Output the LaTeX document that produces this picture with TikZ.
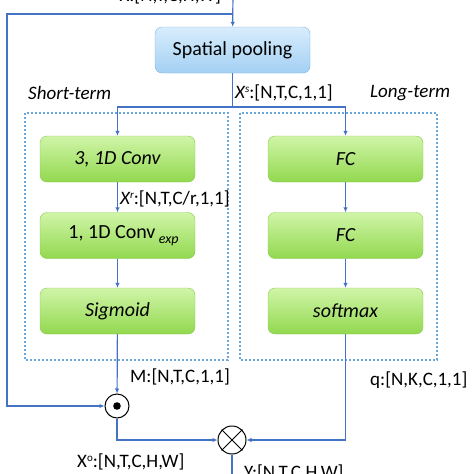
\documentclass[tikz,border=0pt]{standalone}
\usepackage{fontspec}
\setmainfont{Carlito}
\usetikzlibrary{arrows.meta}
\definecolor{lineblue}{HTML}{4472C4}
\definecolor{dotblue}{HTML}{6AA8DC}
\definecolor{greentop}{HTML}{D0F5A8}
\definecolor{greenbot}{HTML}{92D84F}
\definecolor{greenedge}{HTML}{8CC84E}
\definecolor{pooltop}{HTML}{D8EDFC}
\definecolor{poolbot}{HTML}{A3D0F4}
\definecolor{pooledge}{HTML}{7DB3E3}
\newcommand{\tinysup}[1]{\raisebox{0.7ex}{\fontsize{11}{12}\selectfont #1}}

\begin{document}
\begin{tikzpicture}[x=1pt,y=-1pt]
	\tikzstyle{every node}=[font=\fontsize{19}{21}\selectfont, inner sep=1pt]
	\tikzstyle{block}=[draw=greenedge, rounded corners=7pt, top color=greentop, bottom color=greenbot,
		minimum width=155pt, minimum height=46pt, font=\fontsize{20}{22}\selectfont]
	\tikzstyle{poolbox}=[block, draw=pooledge, top color=pooltop, bottom color=poolbot]
	\tikzstyle{conn}=[draw=lineblue, line width=1.2pt, -{Latex[length=5pt,width=4.5pt]}]
	\tikzstyle{region}=[draw=dotblue, line width=2.6pt, dash pattern=on 2.2pt off 1.8pt]
	\tikzstyle{op}=[circle, draw, line width=1pt, inner sep=0pt]
	\useasboundingbox (0,0) rectangle (474,474);
	% blocks
	\node[poolbox] (pool) at (232.5,50) {Spatial pooling};
	\node[block] (conv3) at (117.5,159) {\itshape 3, 1D Conv};
	\node[block] (conv1) at (117.5,235.5) {\hspace{12pt}1, 1D Conv\,\raisebox{-0.5ex}{\fontsize{14}{15}\selectfont\itshape exp}};
	\node[block] (sig) at (117.5,311) {\itshape Sigmoid};
	\node[block] (fc1) at (345.5,159) {\itshape FC};
	\node[block] (fc2) at (345.5,235.5) {\itshape FC};
	\node[block] (soft) at (345.5,311) {\itshape softmax};
	% dotted regions
	\draw[region] (25,113) rectangle (228,360);
	\draw[region] (240,113) rectangle (437,360);
	% operators
	\node[op, minimum size=24pt] (dot) at (117,406) {};
	\fill (dot) circle (3.8pt);
	\node[op, minimum size=28pt] (mul) at (232,440) {};
	\draw[line width=1pt] (mul.north west) -- (mul.south east) (mul.north east) -- (mul.south west);
	% connectors
	\coordinate (in) at (233,-10);
	\coordinate (fork) at (233,14);
	\coordinate (skip) at (7,14);
	\coordinate (split) at (232.5,107);
	\coordinate (out) at (232,485);
	\draw[conn] (in) -- (pool);
	\draw[conn] (fork) -- (skip) |- (dot);
	\draw[conn] (pool) -- (split) -| (conv3);
	\draw[conn] (split) -| (fc1);
	\draw[conn] (conv3) -- (conv1);
	\draw[conn] (conv1) -- (sig);
	\draw[conn] (fc1) -- (fc2);
	\draw[conn] (fc2) -- (soft);
	\draw[conn] (sig) -- (dot);
	\draw[conn] (dot) |- (mul);
	\draw[conn] (soft) |- (mul);
	\draw[draw=lineblue, line width=1.2pt] (mul) -- (out);
	% labels
	\node[anchor=base east] (xin) at (222,1.5) {X:[N,T,C,H,W]};
	\node[anchor=west, font=\fontsize{19}{21}\selectfont\itshape] (short) at (27,93) {Short-term};
	\node[anchor=west, font=\fontsize{19}{21}\selectfont\itshape] (long) at (369,93) {Long-term};
	\node[anchor=west] (xs) at (234,93) {{\itshape X}\tinysup{\itshape s}:[N,T,C,1,1]};
	\node[anchor=west] (xr) at (119,199) {{\itshape X}\tinysup{\itshape r}:[N,T,C/r,1,1]};
	\node[anchor=west] (m) at (129,377) {M:[N,T,C,1,1]};
	\node[anchor=west] (q) at (369,380) {q:[N,K,C,1,1]};
	\node[anchor=west] (xo) at (76,462) {X\tinysup{o}:[N,T,C,H,W]};
	\node[anchor=north west] (y) at (243,464) {Y:[N,T,C,H,W]};
\end{tikzpicture}
\end{document}
